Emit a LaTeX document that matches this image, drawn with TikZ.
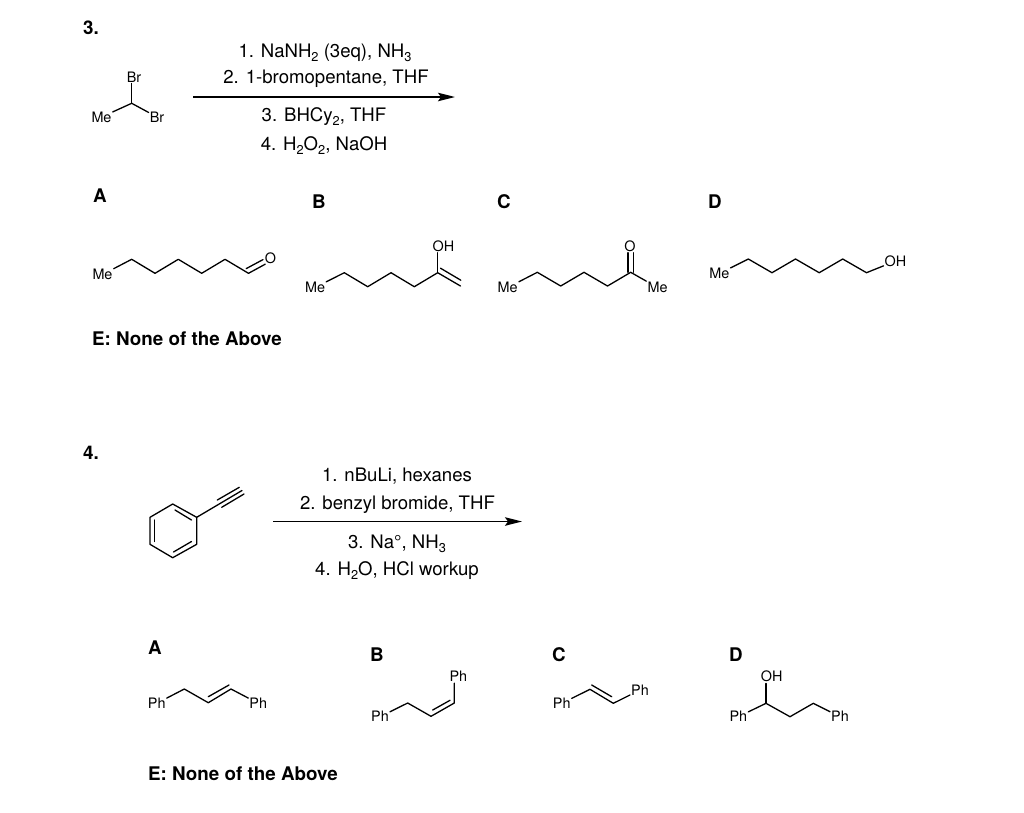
\documentclass[tikz,border=0pt]{standalone}
\usepackage{fontspec}
\setmainfont{TeX Gyre Heros}
\usetikzlibrary{arrows.meta}
\newcommand{\reagsize}{\fontsize{18.6}{20}\selectfont}
\newcommand{\atomsize}{\fontsize{14.4}{16}\selectfont}
\newcommand{\labsize}{\fontsize{18.8}{20}\selectfont\bfseries}
\newcommand{\lowered}[1]{\raisebox{-0.22em}{\fontsize{12.8}{14}\selectfont #1}}
\tikzset{
  bond/.style={line width=1.3pt,black,line cap=round,line join=round},
  rxnarrow/.style={line width=1.6pt,black,-{Stealth[length=17pt,width=8.5pt,inset=3pt]}},
  atomlabel/.style={font=\atomsize,inner sep=1pt,text=black},
  reagent/.style={font=\reagsize,inner sep=0pt,text=black,anchor=base},
  answer/.style={font=\labsize,inner sep=0pt,text=black},
}
\begin{document}
\begin{tikzpicture}[x=1pt,y=-1pt]
\useasboundingbox[fill=white] (0,0) rectangle (1024,812);

% ---------- Question 3
\node[answer] (q3) at (91,28) {3.};
\node[atomlabel] (sBr1) at (134,77) {Br};
\node[atomlabel] (sMe) at (101.5,117) {Me};
\node[atomlabel] (sBr2) at (157,117) {Br};
\coordinate (sC) at (131.7,103.3);
\draw[bond] (sBr1.south -| sC) -- (sC);
\draw[bond] (sMe) -- (sC) -- (sBr2);

\coordinate (ar3a) at (193,97);
\coordinate (ar3b) at (455,97);
\draw[rxnarrow] (ar3a) -- (ar3b);
\node[reagent] (r31) at (325,57) {1. NaNH\lowered{2} (3eq), NH\lowered{3}};
\node[reagent] (r32) at (326,83.5) {2. 1-bromopentane, THF};
\node[reagent] (r33) at (324,121.5) {3. BHCy\lowered{2}, THF};
\node[reagent] (r34) at (324,150) {4. H\lowered{2}O\lowered{2}, NaOH};

\node[answer] (a3A) at (100,196) {A};
\node[answer] (a3B) at (319,202) {B};
\node[answer] (a3C) at (504,202) {C};
\node[answer] (a3D) at (715,202) {D};

% 3A
\node[atomlabel] (aMe) at (102.5,274.5) {Me};
\node[atomlabel] (aO) at (270.5,258.5) {O};
\coordinate (a1) at (131.7,259.3);
\coordinate (a2) at (155,273.3);
\coordinate (a3) at (178.3,259.3);
\coordinate (a4) at (201.7,273.3);
\coordinate (a5) at (225,259.3);
\coordinate (a6) at (248.5,273.3);
\coordinate (a6b) at (246.2,268.6);
\coordinate (aOb) at (263,259.6);
\coordinate (aOc) at (265.2,264.2);
\draw[bond] (aMe) -- (a1) -- (a2) -- (a3) -- (a4) -- (a5) -- (a6) -- (aOc);
\draw[bond] (a6b) -- (aOb);

% 3B
\node[atomlabel] (bMe) at (315,287.5) {Me};
\node[atomlabel] (bOH) at (443.5,246) {OH};
\coordinate (b1) at (344.3,272.7);
\coordinate (b2) at (367.7,286.7);
\coordinate (b3) at (391,272.7);
\coordinate (b4) at (414.3,286.7);
\coordinate (b5) at (437.7,272.7);
\coordinate (b6) at (460.5,286);
\coordinate (b5b) at (440.5,268.2);
\coordinate (b6b) at (460.8,280.2);
\draw[bond] (bMe) -- (b1) -- (b2) -- (b3) -- (b4) -- (b5) -- (b6);
\draw[bond] (b5b) -- (b6b);
\draw[bond] (b5) -- (b5 |- bOH.south);

% 3C
\node[atomlabel] (cMe) at (507.7,287.5) {Me};
\node[atomlabel] (cO) at (630,246) {O};
\node[atomlabel] (cMe2) at (657.5,287.5) {Me};
\coordinate (c1) at (537.3,272.3);
\coordinate (c2) at (560.7,286);
\coordinate (c3) at (584,272.3);
\coordinate (c4) at (607.5,286);
\coordinate (c5) at (630.7,272.3);
\coordinate (c5a) at (628,272.3);
\coordinate (c5b) at (633.2,272.3);
\draw[bond] (cMe) -- (c1) -- (c2) -- (c3) -- (c4) -- (c5) -- (cMe2);
\draw[bond] (c5a) -- (c5a |- cO.south);
\draw[bond] (c5b) -- (c5b |- cO.south);

% 3D
\node[atomlabel] (dMe) at (719.3,273.5) {Me};
\node[atomlabel] (dOH) at (895.5,261) {OH};
\coordinate (d1) at (748.3,259);
\coordinate (d2) at (772,272.7);
\coordinate (d3) at (795.5,259);
\coordinate (d4) at (819.2,272.7);
\coordinate (d5) at (842.7,259);
\coordinate (d6) at (866.5,272.7);
\draw[bond] (dMe) -- (d1) -- (d2) -- (d3) -- (d4) -- (d5) -- (d6) -- (dOH);

\node[answer,anchor=west] (e3) at (92,338.5) {E: None of the Above};

% ---------- Question 4
\node[answer] (q4) at (91,452.5) {4.};
\coordinate (p1) at (172.7,504);
\coordinate (p2) at (196.7,517.3);
\coordinate (p3) at (196.7,544.3);
\coordinate (p4) at (172.7,557.7);
\coordinate (p5) at (150,544.3);
\coordinate (p6) at (150,517.3);
\draw[bond] (p1) -- (p2) -- (p3) -- (p4) -- (p5) -- (p6) -- cycle;
\coordinate (pi1) at (175,510);
\coordinate (pi2) at (191.5,520);
\coordinate (pi3) at (191.5,541.5);
\coordinate (pi4) at (173.5,552);
\coordinate (pi5) at (154.7,541.5);
\coordinate (pi6) at (154.7,520);
\draw[bond] (pi1) -- (pi2);
\draw[bond] (pi3) -- (pi4);
\draw[bond] (pi5) -- (pi6);
\coordinate (tm) at (242,490.5);
\coordinate (t1a) at (217.3,500);
\coordinate (t1b) at (239.3,487.3);
\coordinate (t2a) at (221.7,507.3);
\coordinate (t2b) at (244,494);
\draw[bond] (p2) -- (tm);
\draw[bond] (t1a) -- (t1b);
\draw[bond] (t2a) -- (t2b);

\coordinate (ar4a) at (273,521.5);
\coordinate (ar4b) at (522,521.5);
\draw[rxnarrow] (ar4a) -- (ar4b);
\node[reagent] (r41) at (397,481.5) {1. nBuLi, hexanes};
\node[reagent] (r42) at (397.5,509.5) {2. benzyl bromide, THF};
\node[reagent] (r43) at (397,548) {3. Na°, NH\lowered{3}};
\node[reagent] (r44) at (397,575.5) {4. H\lowered{2}O, HCl workup};

\node[answer] (a4A) at (155,648) {A};
\node[answer] (a4B) at (377,655) {B};
\node[answer] (a4C) at (559,655) {C};
\node[answer] (a4D) at (736,655) {D};

% 4A
\node[atomlabel] (eP1) at (156.7,703.3) {Ph};
\node[atomlabel] (eP2) at (258.3,703.3) {Ph};
\coordinate (e1) at (184.3,689);
\coordinate (e2) at (208.3,702.7);
\coordinate (e3v) at (231,689);
\coordinate (e2b) at (208.3,696.7);
\coordinate (e3b) at (229,685);
\draw[bond] (eP1) -- (e1) -- (e2) -- (e3v) -- (eP2);
\draw[bond] (e2b) -- (e3b);

% 4B
\node[atomlabel] (fP1) at (380,716.7) {Ph};
\node[atomlabel] (fP2) at (458.3,676.7) {Ph};
\coordinate (f1) at (407.7,703);
\coordinate (f2) at (431,716.3);
\coordinate (f3) at (454.3,703);
\coordinate (f2b) at (432.7,710);
\coordinate (f3b) at (450,700.3);
\draw[bond] (fP1) -- (f1) -- (f2) -- (f3) -- (f3 |- fP2.south);
\draw[bond] (f2b) -- (f3b);

% 4C
\node[atomlabel] (gP1) at (561.7,703.3) {Ph};
\node[atomlabel] (gP2) at (640,690) {Ph};
\coordinate (g1) at (590,689.3);
\coordinate (g2) at (613.3,703.3);
\coordinate (g1b) at (591.7,685);
\coordinate (g2b) at (611.7,696.7);
\draw[bond] (gP1) -- (g1) -- (g2) -- (gP2);
\draw[bond] (g1b) -- (g2b);

% 4D
\node[atomlabel] (hP1) at (738.3,716.7) {Ph};
\node[atomlabel] (hP2) at (840,716.7) {Ph};
\node[atomlabel] (hOH) at (771.7,676.7) {OH};
\coordinate (h1) at (766,703.3);
\coordinate (h2) at (790,716.7);
\coordinate (h3) at (813.3,703.3);
\draw[bond] (hP1) -- (h1) -- (h2) -- (h3) -- (hP2);
\draw[bond] (h1) -- (h1 |- hOH.south);

\node[answer,anchor=west] (e4) at (148,773.5) {E: None of the Above};
\end{tikzpicture}
\end{document}
